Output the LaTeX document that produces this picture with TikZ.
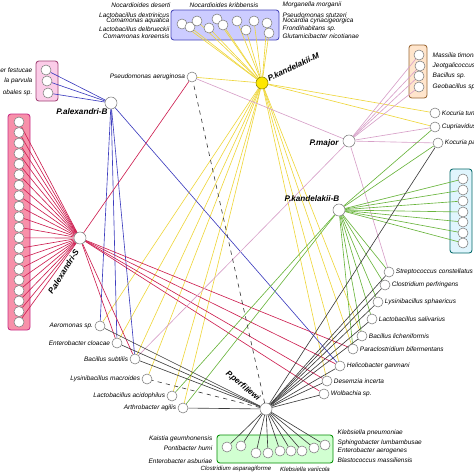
\documentclass[tikz,border=0pt]{standalone}
\usepackage{fontspec}
\setmainfont{Liberation Sans}
\usetikzlibrary{backgrounds}

\definecolor{ylw}{RGB}{238,214,60}
\definecolor{blu}{RGB}{60,60,190}
\definecolor{crim}{RGB}{205,30,80}
\definecolor{mauve}{RGB}{215,160,200}
\definecolor{grn}{RGB}{105,180,60}
\definecolor{drk}{RGB}{60,60,60}

\tikzset{
	sp/.style={circle, draw=gray, fill=white, line width=0.4pt, minimum size=0.25cm, inner sep=0pt},
	hub/.style={sp, minimum size=0.3cm},
	lbl/.style={font=\fontsize{4.6}{5.5}\selectfont\itshape, inner sep=1pt},
	smlbl/.style={font=\fontsize{4.3}{5}\selectfont\itshape, inner sep=1pt},
	hublbl/.style={font=\fontsize{5.8}{7}\selectfont\bfseries\itshape, inner sep=0pt},
	grp/.style={rounded corners=2pt, line width=0.6pt},
	link/.style={line width=0.45pt},
}

\begin{document}
\begin{tikzpicture}[x=0.025cm, y=-0.025cm]
	\useasboundingbox (0,0) rectangle (474,474);
	\clip (0,0) rectangle (474,474);

	% hubs
	\node[hub, fill=yellow!90!orange, draw=olive] (km) at (262,83) {};
	\node[hub] (ab) at (111,103) {};
	\node[hub] (as) at (80,238) {};
	\node[hub] (mj) at (349,141) {};
	\node[hub] (kb) at (339,210) {};
	\node[hub] (pf) at (266,409) {};

	\node[hublbl, rotate=25, anchor=west] (km-l) at (268,79) {P.kandelakii-M};
	\node[hublbl] (ab-l) at (82,112) {P.alexandri-B};
	\node[hublbl, rotate=58, anchor=east] (as-l) at (77,250) {P.alexandri-S};
	\node[hublbl] (mj-l) at (324,143) {P.major};
	\node[hublbl] (kb-l) at (312,199) {P.kandelakii-B};
	\node[hublbl, rotate=-40, anchor=east] (pf-l) at (259,400) {P.perfiliewi};

	% top group
	\foreach \n/\x/\y in {1/182/24, 2/190/27, 3/197/21, 4/209/28, 5/217/19, 6/223/25,
		7/237/21, 8/246/30, 9/254/21, 10/267/23, 11/269/33}
		\node[sp] (m\n) at (\x,\y) {};
	\node[lbl, anchor=east] (t1) at (172,5) {Nocardioides deserti};
	\node[lbl] (t2) at (224,5) {Nocardioides kribbensis};
	\node[lbl, anchor=west] (t3) at (281,5) {Morganella morganii};
	\node[lbl, anchor=east] (t4) at (171,15) {Lactobacillus dextrinicus};
	\node[lbl, anchor=east] (t5) at (171,21) {Comamonas aquatica};
	\node[lbl, anchor=east] (t6) at (171,29) {Lactobacillus delbrueckii};
	\node[lbl, anchor=east] (t7) at (171,36) {Comamonas koreensis};
	\node[lbl, anchor=west] (t8) at (281,15) {Pseudomonas stutzeri};
	\node[lbl, anchor=west] (t9) at (281,21) {Nocardia cyriacigeorgica};
	\node[lbl, anchor=west] (t10) at (281,29) {Frondihabitans sp.};
	\node[lbl, anchor=west] (t11) at (281,36) {Glutamicibacter nicotianae};

	% upper left group
	\foreach \n/\x/\y in {1/46/70, 2/47/81, 3/48/93}
		\node[sp] (b\n) at (\x,\y) {};
	\node[lbl, anchor=east] (u1) at (34,70) {er festucae};
	\node[lbl, anchor=east] (u2) at (34,81) {la parvula};
	\node[lbl, anchor=east] (u3) at (34,93) {obales sp.};

	% tall left group
	\foreach \n in {1,...,20}
		\node[sp] (s\n) at (19,{122+(\n-1)*10.53}) {};

	% upper right group
	\foreach \n/\x/\y in {1/419/55, 2/420/66, 3/419/76, 4/419/87}
		\node[sp] (o\n) at (\x,\y) {};
	\node[lbl, anchor=west] (r1) at (431,55) {Massilia timonae};
	\node[lbl, anchor=west] (r2) at (431,66) {Jeotgalicoccus sp.};
	\node[lbl, anchor=west] (r3) at (431,76) {Bacillus sp.};
	\node[lbl, anchor=west] (r4) at (431,87) {Geobacillus sp.};

	% right group
	\foreach \n/\y in {1/179, 2/190, 3/201, 4/212, 5/222, 6/233, 7/243}
		\node[sp] (c\n) at (463,\y) {};

	% bottom group
	\foreach \n/\x/\y in {1/227/447, 2/241/446, 3/256/453, 4/268/453, 5/280/451,
		6/291/451, 7/302/451, 8/314/448, 9/325/445}
		\node[sp] (g\n) at (\x,\y) {};
	\node[lbl, anchor=east] (w1) at (214,439) {Kaistia geumhonensis};
	\node[lbl, anchor=east] (w2) at (214,448) {Pontibacter humi};
	\node[lbl, anchor=east] (w3) at (214,461) {Enterobacter asburiae};
	\node[smlbl] (w4) at (236,469) {Clostridium asparagiforme};
	\node[smlbl] (w5) at (305,469) {Klebsiella variicola};
	\node[lbl, anchor=west] (w6) at (336,433) {Klebsiella pneumoniae};
	\node[lbl, anchor=west] (w7) at (336,443) {Sphingobacter lumbambusae};
	\node[lbl, anchor=west] (w8) at (336,451) {Enterobacter aerogenes};
	\node[lbl, anchor=west] (w9) at (336,460) {Blastococcus massiliensis};

	% single taxa
	\node[sp] (pa) at (192,77) {};
	\node[lbl, anchor=east] at (pa.west) {Pseudomonas aeruginosa};
	\node[sp] (kt) at (435,113) {};
	\node[lbl, anchor=west] at (kt.east) {Kocuria turfanensis};
	\node[sp] (cu) at (435,127) {};
	\node[lbl, anchor=west] at (cu.east) {Cupriavidus necator};
	\node[sp] (kp) at (438,143) {};
	\node[lbl, anchor=west] at (kp.east) {Kocuria palustris};
	\node[sp] (sc) at (389,272) {};
	\node[lbl, anchor=west] at (sc.east) {Streptococcus constellatus};
	\node[sp] (cp) at (385,285) {};
	\node[lbl, anchor=west] at (cp.east) {Clostridium perfringens};
	\node[sp] (ls) at (378,302) {};
	\node[lbl, anchor=west] at (ls.east) {Lysinibacillus sphaericus};
	\node[sp] (lsa) at (372,319) {};
	\node[lbl, anchor=west] at (lsa.east) {Lactobacillus salivarius};
	\node[sp] (bl) at (362,336) {};
	\node[lbl, anchor=west] at (bl.east) {Bacillus licheniformis};
	\node[sp] (pb) at (353,349) {};
	\node[lbl, anchor=west] at (pb.east) {Paraclostridium bifermentans};
	\node[sp] (hg) at (340,366) {};
	\node[lbl, anchor=west] at (hg.east) {Helicobacter ganmani};
	\node[sp] (di) at (327,381) {};
	\node[lbl, anchor=west] at (di.east) {Desemzia incerta};
	\node[sp] (ws) at (324,394) {};
	\node[lbl, anchor=west] at (ws.east) {Wolbachia sp.};
	\node[sp] (ae) at (100,326) {};
	\node[lbl, anchor=east] at (ae.west) {Aeromonas sp.};
	\node[sp] (ec) at (117,343) {};
	\node[lbl, anchor=east] at (ec.west) {Enterobacter cloacae};
	\node[sp] (bs) at (135,359) {};
	\node[lbl, anchor=east] at (bs.west) {Bacillus subtilis};
	\node[sp] (lm) at (147,379) {};
	\node[lbl, anchor=east] at (lm.west) {Lysinibacillus macroides};
	\node[sp] (la) at (172,396) {};
	\node[lbl, anchor=east] at (la.west) {Lactobacillus acidophilus};
	\node[sp] (ag) at (183,408) {};
	\node[lbl, anchor=east] at (ag.west) {Arthrobacter agilis};

	\begin{pgfonlayer}{background}
		% group boxes
		\draw[grp, draw=blue!45!gray, fill=blue!20] (171,10) rectangle (279,40);
		\draw[grp, draw=magenta!60!black, fill=magenta!20] (36,61) rectangle (58,101);
		\draw[grp, draw=magenta!80!black, fill=magenta!25!pink] (8,114) rectangle (30,330);
		\draw[grp, draw=brown!80!black, fill=orange!20] (409,45) rectangle (427,98);
		\draw[grp, draw=teal!80!black, fill=cyan!12] (450,169) rectangle (472,253);
		\draw[grp, draw=green!55!black, fill=green!18] (217,435) rectangle (333,463);

		% links
		\foreach \t in {m1,m2,m3,m4,m5,m6,m7,m8,m9,m10,m11,pa,kt,cu,ae,ec,bs,lm,la,ag,bl,pb,hg,di}
			\draw[link, ylw] (km) -- (\t);
		\foreach \t in {b1,b2,b3,ae,ec,bs,hg}
			\draw[link, blu] (ab) -- (\t);
		\foreach \n in {1,...,20}
			\draw[link, crim] (as) -- (s\n);
		\foreach \t in {pa,ec,bs,pb,hg,di,ws}
			\draw[link, crim] (as) -- (\t);
		\foreach \t in {o1,o2,o3,o4,cu,kp,pa,bs,sc}
			\draw[link, mauve] (mj) -- (\t);
		\foreach \t in {c1,c2,c3,c4,c5,c6,c7,kp,cu,sc,cp,ls,lsa,bl,pb,la,ag}
			\draw[link, grn] (kb) -- (\t);
		\foreach \t in {g1,g2,g3,g4,g5,g6,g7,g8,g9,ae,ec,bs,ag,kp,sc,cp,ls,lsa,bl,hg,di,ws}
			\draw[link, drk] (pf) -- (\t);
		\draw[link, drk, dashed] (pf) -- (pa);
		\draw[link, drk, dashed] (pf) -- (lm);
	\end{pgfonlayer}
\end{tikzpicture}
\end{document}
